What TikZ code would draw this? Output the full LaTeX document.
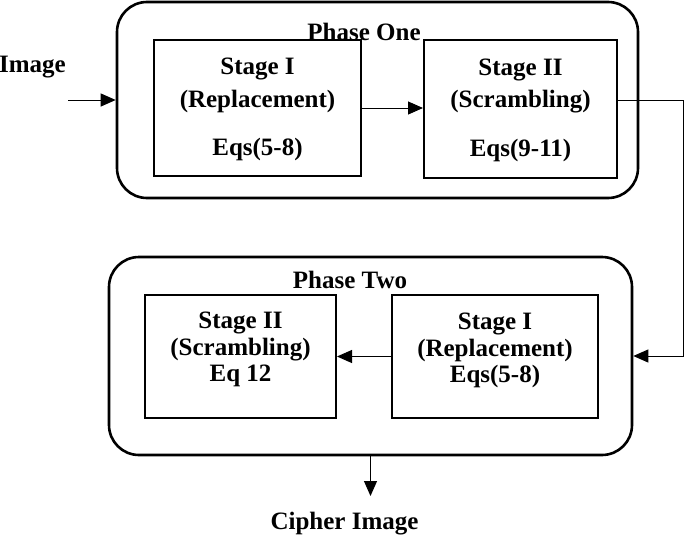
\documentclass[tikz,border=0pt]{standalone}
\usepackage{fontspec}
\setmainfont{Liberation Serif}
\usetikzlibrary{arrows.meta}
\begin{document}
\begin{tikzpicture}[x=1pt,y=-1pt,
  phase/.style={draw, line width=2.6pt, rounded corners=30pt, inner sep=0pt},
  stagebox/.style={draw, line width=2pt, inner sep=0pt},
  lbl/.style={font=\fontsize{25}{26.5}\selectfont\bfseries, inner sep=0pt, align=center},
  toplbl/.style={font=\fontsize{25}{32.5}\selectfont\bfseries, inner sep=0pt, align=center},
  conn/.style={line width=1pt, -{Triangle[length=15pt,width=13pt]}}]
\useasboundingbox (0,0) rectangle (685,538);
% phases
\node[phase, minimum width=521pt, minimum height=196pt] (p1) at (377.5,100) {};
\node[phase, minimum width=523pt, minimum height=198pt] (p2) at (370.5,356) {};
% stage boxes
\node[stagebox, minimum width=207pt, minimum height=136pt] (s1) at (257.5,108) {};
\node[stagebox, minimum width=193pt, minimum height=138pt] (s2) at (520.5,109) {};
\node[stagebox, minimum width=191pt, minimum height=123pt] (s3) at (240.5,356.5) {};
\node[stagebox, minimum width=206pt, minimum height=123pt] (s4) at (495,356.5) {};
% texts
\node[toplbl] (t1) at (257.5,109.5) {Stage I\\(Replacement)\\[16pt]Eqs(5-8)};
\node[toplbl] (t2) at (520.5,110) {Stage II\\(Scrambling)\\[16pt]Eqs(9-11)};
\node[lbl] (t3) at (240.5,349.5) {Stage II\\(Scrambling)\\Eq 12};
\node[lbl] (t4) at (495,350.5) {Stage I\\(Replacement)\\Eqs(5-8)};
\node[lbl, anchor=base] (ph1) at (364,40) {Phase One};
\node[lbl, anchor=base] (ph2) at (350,288) {Phase Two};
\node[lbl, anchor=base] (img) at (32.5,72) {Image};
\node[lbl, anchor=base] (cip) at (344.5,529) {Cipher Image};
% connectors
\coordinate (in) at (68,100);
\coordinate (out) at (370.5,496);
\coordinate (turn) at (683.5,100);
\draw[conn] (in) -- (p1.west);
\draw[conn] (s1.east) -- (s1.east -| s2.west);
\draw[conn] ([yshift=9pt]s2.east) -- (turn) |- (p2.east);
\draw[conn] (s4.west) -- (s3.east);
\draw[conn] (p2.south) -- (out);
\end{tikzpicture}
\end{document}
